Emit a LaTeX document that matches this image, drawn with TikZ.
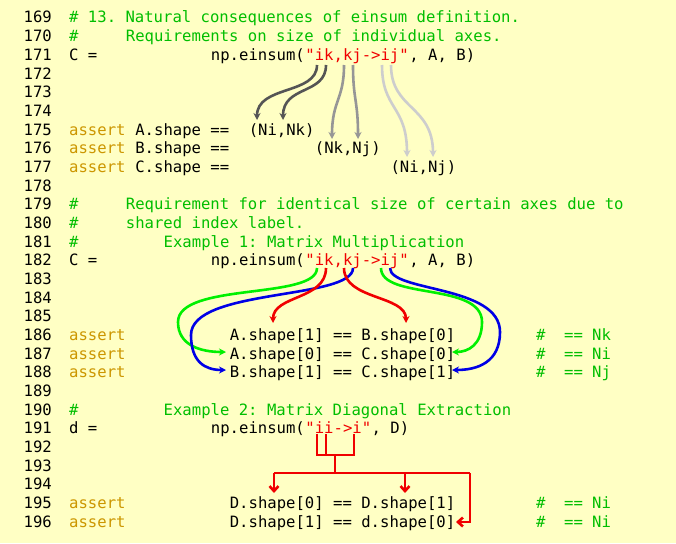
\documentclass[tikz,border=0pt]{standalone}
\usepackage{fontspec}
\setmonofont{DejaVu Sans Mono}
\usetikzlibrary{arrows.meta}
\definecolor{bg}{RGB}{255,255,196}
\definecolor{cmt}{RGB}{0,190,0}
\definecolor{kw}{RGB}{204,150,0}
\definecolor{str}{RGB}{240,0,0}
\definecolor{gA}{RGB}{85,85,85}
\definecolor{gB}{RGB}{150,150,150}
\definecolor{gC}{RGB}{205,205,205}
\definecolor{grn}{RGB}{0,240,0}
\definecolor{blu}{RGB}{0,0,230}
\newcommand\tl[5]{\node[txt,text=#5] (#1) at ({69+#3*9.45},{23+#2*18.67}) {#4};}
\newcommand\tlx[5]{\node[txt,text=#5] (#1) at (#3,{23+#2*18.67}) {#4};}
\begin{document}
\begin{tikzpicture}[x=1pt,y=-1pt,
  txt/.style={anchor=base west,inner sep=0,font=\ttfamily\fontsize{15.6}{16}\selectfont},
  arr/.style={line width=2.6pt,-{Stealth[length=7pt,width=7pt]}},
  tree/.style={line width=2.6pt,str}]
\fill[bg] (0,0) rectangle (676,543);
\useasboundingbox (0,0) rectangle (676,543);
% line numbers
\foreach \n [count=\r from 0] in {169,...,196}{
  \node[txt,anchor=base east] (ln\n) at (52,{23+\r*18.67}) {\n};}
% 169-171
\tl{a0}{0}{0}{\# 13. Natural consequences of einsum definition.}{cmt}
\tl{a1}{1}{0}{\#}{cmt}
\tl{a1b}{1}{6}{Requirements on size of individual axes.}{cmt}
\tl{a2}{2}{0}{C =}{black}
\tl{a2b}{2}{15}{np.einsum(}{black}
\tl{a2c}{2}{25}{"ik,kj->ij"}{str}
\tl{a2d}{2}{36}{, A, B)}{black}
% 175-177
\tl{b6}{6}{0}{assert}{kw}\tl{b6b}{6}{7}{A.shape ==}{black}\tl{b6c}{6}{19}{(Ni,Nk)}{black}
\tl{b7}{7}{0}{assert}{kw}\tl{b7b}{7}{7}{B.shape ==}{black}\tl{b7c}{7}{26}{(Nk,Nj)}{black}
\tl{b8}{8}{0}{assert}{kw}\tl{b8b}{8}{7}{C.shape ==}{black}\tl{b8c}{8}{34}{(Ni,Nj)}{black}
% 179-182
\tl{c10}{10}{0}{\#}{cmt}\tl{c10b}{10}{6}{Requirement for identical size of certain axes due to}{cmt}
\tl{c11}{11}{0}{\#}{cmt}\tl{c11b}{11}{6}{shared index label.}{cmt}
\tl{c12}{12}{0}{\#}{cmt}\tl{c12b}{12}{10}{Example 1: Matrix Multiplication}{cmt}
\tl{c13}{13}{0}{C =}{black}
\tl{c13b}{13}{15}{np.einsum(}{black}
\tl{c13c}{13}{25}{"ik,kj->ij"}{str}
\tl{c13d}{13}{36}{, A, B)}{black}
% 186-188
\tl{d17}{17}{0}{assert}{kw}\tl{d17b}{17}{17}{A.shape[1] == B.shape[0]}{black}
\tl{d18}{18}{0}{assert}{kw}\tl{d18b}{18}{17}{A.shape[0] == C.shape[0]}{black}
\tl{d19}{19}{0}{assert}{kw}\tl{d19b}{19}{17}{B.shape[1] == C.shape[1]}{black}
\foreach \r/\v in {17/Nk,18/Ni,19/Nj,26/Ni,27/Ni}{
  \tlx{h\r}{\r}{536}{\#}{cmt}\tlx{e\r}{\r}{564}{==}{cmt}\tlx{v\r}{\r}{592}{\v}{cmt}}
% 190-191
\tl{f21}{21}{0}{\#}{cmt}\tl{f21b}{21}{10}{Example 2: Matrix Diagonal Extraction}{cmt}
\tl{f22}{22}{0}{d =}{black}
\tl{f22b}{22}{15}{np.einsum(}{black}
\tl{f22c}{22}{25}{"ii->i"}{str}
\tl{f22d}{22}{32}{, D)}{black}
% 195-196
\tl{g26}{26}{0}{assert}{kw}\tl{g26b}{26}{17}{D.shape[0] == D.shape[1]}{black}
\tl{g27}{27}{0}{assert}{kw}\tl{g27b}{27}{17}{D.shape[1] == d.shape[0]}{black}
% gray arrows
\coordinate (s1) at (317,65);\coordinate (s2) at (326,65);
\coordinate (s3) at (344,65);\coordinate (s4) at (353,65);
\coordinate (s5) at (382,65);\coordinate (s6) at (391,65);
\coordinate (t1) at (257,120);\coordinate (t2) at (283,120);
\coordinate (t3) at (332,139);\coordinate (t4) at (358,139);
\coordinate (t5) at (407,157);\coordinate (t6) at (433,157);
\draw[arr,gA] (s1) .. controls (317,95) and (257,85) .. (t1);
\draw[arr,gA] (s2) .. controls (326,95) and (283,85) .. (t2);
\draw[arr,gB] (s3) .. controls (344,100) and (332,100) .. (t3);
\draw[arr,gB] (s4) .. controls (353,100) and (358,100) .. (t4);
\draw[arr,gC] (s5) .. controls (382,110) and (407,105) .. (t5);
\draw[arr,gC] (s6) .. controls (391,110) and (433,105) .. (t6);
% example 1 arrows
\coordinate (u1) at (317,268);\coordinate (u2) at (326,268);
\coordinate (u3) at (344,268);\coordinate (u4) at (353,268);
\coordinate (u5) at (381,268);\coordinate (u6) at (390,268);
\coordinate (w1) at (226,352);\coordinate (w2) at (273,323);
\coordinate (w3) at (406,323);\coordinate (w4) at (226,370);
\coordinate (w5) at (452,352);\coordinate (w6) at (452,370);
\coordinate (m1) at (178,322);\coordinate (m4) at (191,335);
\coordinate (m5) at (482,322);\coordinate (m6) at (500,332);
\draw[arr,grn] (u1) .. controls (317,300) and (178,282) .. (m1) .. controls (178,345) and (200,352) .. (w1);
\draw[arr,blu] (u4) .. controls (353,300) and (191,288) .. (m4) .. controls (191,362) and (205,370) .. (w4);
\draw[arr,str] (u2) .. controls (326,300) and (273,295) .. (w2);
\draw[arr,str] (u3) .. controls (344,300) and (406,295) .. (w3);
\draw[arr,grn] (u5) .. controls (381,300) and (482,282) .. (m5) .. controls (482,345) and (468,352) .. (w5);
\draw[arr,blu] (u6) .. controls (390,292) and (500,285) .. (m6) .. controls (500,362) and (478,370) .. (w6);
% example 2 tree
\coordinate (p1) at (317,435);\coordinate (p2) at (326,435);\coordinate (p3) at (354,435);
\coordinate (q) at (335,455);\coordinate (r) at (335,473);
\coordinate (k1) at (274,493);\coordinate (k2) at (405,493);
\coordinate (k3) at (470,473);\coordinate (k4) at (456,522);
\draw[tree,line cap=rect] (p1) |- (q) (p2) |- (q) (p3) |- (q) -- (r);
\draw[tree] (k1 |- r) -- (k3);
\draw[tree,-{Straight Barb[length=5pt,width=9pt]}] (k1 |- r) -- (k1);
\draw[tree,-{Straight Barb[length=5pt,width=9pt]}] (k2 |- r) -- (k2);
\draw[tree,-{Straight Barb[length=5pt,width=9pt]}] (k3) |- (k4);
\end{tikzpicture}
\end{document}
